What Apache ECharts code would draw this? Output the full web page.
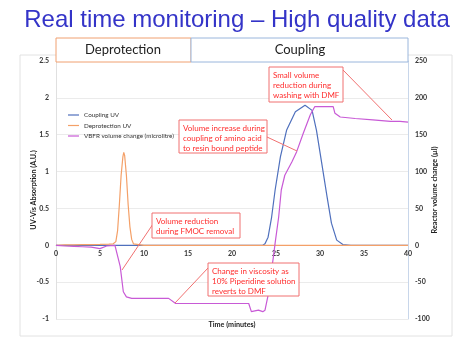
<!DOCTYPE html>
<html>
<head>
<meta charset="utf-8">
<script src="https://cdn.jsdelivr.net/npm/echarts@6/dist/echarts.min.js"></script>
<style>
  html, body { margin: 0; padding: 0; background: #fff; }
  #chart { width: 474px; height: 352px; }
</style>
</head>
<body>
<div id="chart"></div>
<script>
// time (minutes) / values
var deprotT = [0, 1, 2, 3, 4, 5, 6, 6.5, 6.8, 7.0, 7.2, 7.4, 7.6, 7.7, 7.8, 8.0, 8.2, 8.4, 8.6, 8.8, 9.0, 10, 20, 30, 40];
var deprotUV = [0, 0.005, 0.005, 0.008, 0.01, 0.012, 0.015, 0.02, 0.05, 0.2, 0.55, 0.95, 1.2, 1.26, 1.22, 0.95, 0.55, 0.25, 0.08, 0.02, 0.005, 0, 0, 0, 0];

var couplT = [0, 10, 20, 23.5, 23.75, 24.1, 24.5, 24.9, 25.5, 26.2, 27.2, 28.3, 29.1, 29.6, 30.2, 30.8, 31.3, 31.9, 32.6, 33.5, 40];
var couplUV = [0, 0, 0, 0, 0.02, 0.11, 0.38, 0.75, 1.2, 1.56, 1.81, 1.9, 1.83, 1.56, 1.11, 0.66, 0.3, 0.07, 0.01, 0, 0];

var vbfrT = [0, 1, 2, 3, 4, 5, 5.75, 6.7, 7.3, 7.65, 8.0, 8.6, 12.8, 13.6, 21.9, 22.2, 23.0, 23.5, 23.75, 24.1, 24.7, 24.9, 25.3, 25.6, 26.0, 26.8, 27.35, 28.1, 28.9, 29.4, 31.5, 31.7, 32.3, 34, 36, 38, 39.1, 40];
var vbfrVol = [0, -1, -1.5, -2, -2.5, -4.5, -1, 0, -29, -63, -70, -72, -72, -79, -79, -90, -88, -90, -88, -68, -16, 3, 38, 75, 95, 113, 127, 152, 177, 188, 188, 179, 174, 172, 170, 168, 168, 167];

var leftTicks = [-1, 2.5, 0.5];
var rightTicks = [-100, 250, 50];

function pairs(t, v) {
  return t.map(function (x, i) { return [x, v[i]]; });
}

var chart = echarts.init(document.getElementById('chart'));
var fam = 'Lato, "Noto Sans", sans-serif';

function note(x, y, w, h, lines, lx1, ly1, lx2, ly2) {
  return [
    { type: 'line', z: 20, shape: { x1: lx1, y1: ly1, x2: lx2, y2: ly2 },
      style: { stroke: '#f07070', lineWidth: 1 } },
    { type: 'rect', z: 21, shape: { x: x, y: y, width: w, height: h },
      style: { fill: '#fff', stroke: '#f07070', lineWidth: 1 } },
    { type: 'text', z: 22, x: x + 4, y: y + 3,
      style: { text: lines.join('\n'), fill: '#ff2d2d', font: '8px ' + fam, lineHeight: 10.3 } }
  ];
}

var graphics = [
  { type: 'rect', z: -1, shape: { x: 20, y: 55, width: 432, height: 281 },
    style: { fill: 'none', stroke: '#e2e2e2', lineWidth: 1 } },
  { type: 'text', left: 'center', top: 8,
    style: { text: 'Real time monitoring \u2013 High quality data', fill: '#3434c8', font: '24px "Liberation Sans", Arial, sans-serif' } },
  { type: 'rect', z: 10, shape: { x: 56, y: 38, width: 135, height: 24 },
    style: { fill: '#fff', stroke: '#f0a070', lineWidth: 1 } },
  { type: 'rect', z: 10, shape: { x: 191, y: 38, width: 217, height: 24 },
    style: { fill: '#fff', stroke: '#9ab6dc', lineWidth: 1 } },
  { type: 'text', z: 11, x: 123, y: 50,
    style: { text: 'Deprotection', fill: '#222', font: '13px ' + fam, align: 'center', verticalAlign: 'middle' } },
  { type: 'text', z: 11, x: 300, y: 50,
    style: { text: 'Coupling', fill: '#222', font: '13px ' + fam, align: 'center', verticalAlign: 'middle' } },
  { type: 'text', x: 232, y: 325,
    style: { text: 'Time (minutes)', fill: '#222', font: 'bold 7.2px ' + fam, align: 'center', verticalAlign: 'middle' } }
]
  .concat(note(269, 67, 74, 35, ['Small volume', 'reduction during', 'washing with DMF'], 343, 70, 392, 120))
  .concat(note(179, 120, 88, 33, ['Volume increase during', 'coupling of amino acid', 'to resin bound peptide'], 267, 137, 297, 151))
  .concat(note(152, 213, 88, 25, ['Volume reduction', 'during FMOC removal'], 153, 224, 122, 270))
  .concat(note(208, 263, 91, 33, ['Change in viscosity as', '10% Piperidine solution', 'reverts to DMF'], 208, 268, 175, 303));

var option = {
  animation: false,
  textStyle: { fontFamily: fam },
  grid: { left: 56, right: 66, top: 61, bottom: 33 },
  legend: {
    orient: 'vertical', left: 63, top: 107, itemGap: 4.5,
    itemWidth: 11, itemHeight: 1.2, icon: 'rect',
    textStyle: { fontSize: 6.3, color: '#333' },
    data: ['Coupling UV', 'Deprotection UV', 'VBFR volume change (microlitre)']
  },
  xAxis: {
    type: 'value', min: 0, max: 40, interval: 5,
    offset: -74,
    axisLine: { onZero: false, lineStyle: { color: '#d8d8d8' } },
    axisTick: { show: false },
    splitLine: { show: false },
    axisLabel: { fontSize: 7, fontWeight: 'bold', color: '#333', margin: 5 }
  },
  yAxis: [
    {
      type: 'value', min: leftTicks[0], max: leftTicks[1], interval: leftTicks[2],
      name: 'UV-Vis Absorption (A.U.)', nameLocation: 'middle', nameGap: 19, nameRotate: 90,
      nameMoveOverlap: false,
      nameTextStyle: { fontSize: 7.2, fontWeight: 'bold', color: '#222' },
      axisLine: { show: true, onZero: false, lineStyle: { color: '#e0e0e0' } },
      axisTick: { show: false },
      splitLine: { lineStyle: { color: '#ebebeb' } },
      axisLabel: { fontSize: 7, fontWeight: 'bold', color: '#333', margin: 7 }
    },
    {
      type: 'value', min: rightTicks[0], max: rightTicks[1], interval: rightTicks[2],
      position: 'right',
      name: 'Reactor volume change (\u00b5l)', nameLocation: 'middle', nameGap: 23, nameRotate: 90,
      nameMoveOverlap: false,
      nameTextStyle: { fontSize: 7.2, fontWeight: 'bold', color: '#222' },
      axisLine: { show: true, onZero: false, lineStyle: { color: '#c8d6ea' } },
      axisTick: { show: false },
      splitLine: { show: false },
      axisLabel: { fontSize: 7, fontWeight: 'bold', color: '#333', margin: 7 }
    }
  ],
  series: [
    {
      name: 'Coupling UV', type: 'line', showSymbol: false, z: 3,
      data: pairs(couplT, couplUV),
      lineStyle: { color: '#4f70bd', width: 1.2 }, itemStyle: { color: '#4f70bd' }
    },
    {
      name: 'Deprotection UV', type: 'line', showSymbol: false, z: 4,
      data: pairs(deprotT, deprotUV),
      lineStyle: { color: '#f4a068', width: 1.2 }, itemStyle: { color: '#f4a068' }
    },
    {
      name: 'VBFR volume change (microlitre)', type: 'line', showSymbol: false, z: 5, yAxisIndex: 1,
      data: pairs(vbfrT, vbfrVol),
      lineStyle: { color: '#c85ad6', width: 1.2 }, itemStyle: { color: '#c85ad6' }
    }
  ],
  graphic: graphics
};
chart.setOption(option);
</script>
</body>
</html>
